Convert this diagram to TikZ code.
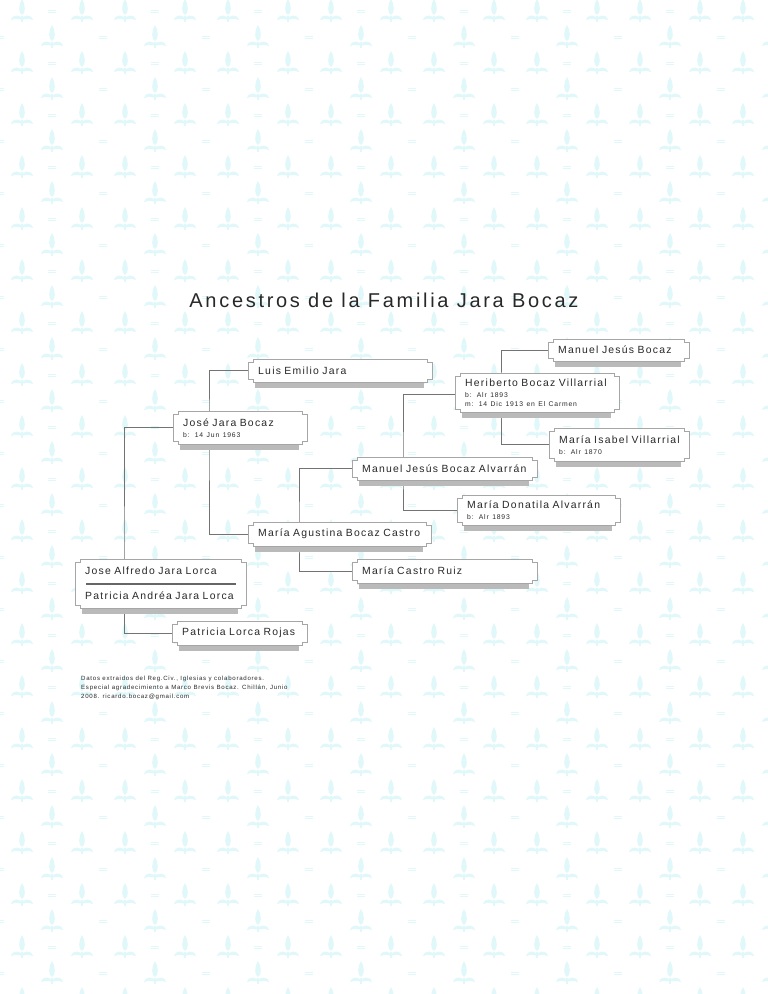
\documentclass[tikz,border=0pt]{standalone}
\usepackage{fontspec}
\setmainfont{Liberation Sans}
\newfontfamily\spacedfont[LetterSpace=12]{Liberation Sans}
\newfontfamily\titlefont[LetterSpace=13.5]{Liberation Sans}
\usetikzlibrary{calc}
\pgfdeclarelayer{pattern}
\pgfdeclarelayer{links}
\pgfdeclarelayer{cards}
\pgfsetlayers{pattern,links,cards,main}
\definecolor{motif}{RGB}{224,248,250}
\definecolor{inkgray}{RGB}{40,40,40}
\newcommand{\datumfont}{\fontsize{6.8}{9}\selectfont}
\newcommand{\datum}[1]{\\[-1pt]{\datumfont #1}}
\tikzset{
  card/.style={anchor=north west, inner xsep=10pt, inner ysep=0pt, text width=#1, align=left,
    minimum height=22pt, text=inkgray, font=\spacedfont\fontsize{10.4}{12}\selectfont},
  link/.style={draw=black!55, line width=0.7pt},
  frame/.style={draw=black!35, fill=white, line width=0.6pt},
  shade/.style={fill=black!27},
  lis/.pic={
    \fill (0,-12) .. controls (4,-5) and (3.5,2) .. (0,4) .. controls (-3.5,2) and (-4,-5) .. (0,-12);
    \fill (-1,6) .. controls (-6,3) and (-10,5) .. (-11,9) .. controls (-8,7) and (-5,8) .. (-1,8.5) -- cycle;
    \fill (1,6) .. controls (6,3) and (10,5) .. (11,9) .. controls (8,7) and (5,8) .. (1,8.5) -- cycle;
    \fill (-1.2,5) rectangle (1.2,11);
  },
  tick/.pic={
    \fill (-4,-1.5) rectangle (4,-0.7);
    \fill (-4,1) rectangle (4,1.8);
  }
}
\begin{document}
\begin{tikzpicture}[x=1pt, y=-1pt]
  \useasboundingbox (0,0) rectangle (768,994);

  % wallpaper
  \begin{pgfonlayer}{pattern}
    \fill[white] (0,0) rectangle (768,994);
    \begin{scope}[fill=motif]
      \foreach \i in {0,...,7} {
        \foreach \j in {0,...,19} {
          \pic at (22+103*\i, 11+52*\j) {lis};
          \pic at (82+103*\i, 11+52*\j) {lis};
          \pic at (52+103*\i, 37+52*\j) {lis};
          \pic at (52+103*\i, 11+52*\j) {tick};
          \pic at (103*\i, 37+52*\j) {tick};
        }
      }
    \end{scope}
  \end{pgfonlayer}

  \node[text=inkgray, font=\titlefont\fontsize{20}{24}\selectfont] (title) at (384,300) {Ancestros de la Familia Jara Bocaz};

  % persons
  \node[card=121pt] (mjb) at (548,339) {Manuel Jesús Bocaz};
  \node[card=164pt, minimum height=23pt] (luis) at (248,359) {Luis Emilio Jara};
  \node[card=144pt, minimum height=39pt] (heri) at (455,373) {Heriberto Bocaz Villarrial\datum{b: Alr 1893}\\[-3.5pt]{\datumfont m: 14 Dic 1913 en El Carmen}};
  \node[card=114pt, minimum height=33pt] (jose) at (173,411) {José Jara Bocaz\datum{b: 14 Jun 1963}};
  \node[card=120pt, minimum height=33pt] (mis) at (549,428) {María Isabel Villarrial\datum{b: Alr 1870}};
  \node[card=165pt, minimum height=23pt] (mjba) at (352,457) {Manuel Jesús Bocaz Alvarrán};
  \node[card=143pt, minimum height=30pt] (mda) at (457,495) {María Donatila Alvarrán\datum{b: Alr 1893}};
  \node[card=163pt, minimum height=24pt] (mabc) at (248,522) {María Agustina Bocaz Castro};
  \node[card=165pt, minimum height=24pt] (mcr) at (352,559) {María Castro Ruiz};
  \node[card=151pt, minimum height=49pt] (pair) at (75,559) {Jose Alfredo Jara Lorca\\[13pt]Patricia Andréa Jara Lorca};
  \node[card=115pt, minimum height=24pt] (plr) at (172,621) {Patricia Lorca Rojas};
  \draw[black!60, line width=1.6pt] ([xshift=11pt]pair.west) -- ([xshift=-10pt]pair.east);

  \node[anchor=north west, align=left, inner sep=0pt, text=inkgray, font=\spacedfont\fontsize{6.1}{9}\selectfont] (note) at (81,676)
    {Datos extraidos del Reg.Civ., Iglesias y colaboradores.\\Especial agradecimiento a Marco Brevis Bocaz. Chillán, Junio\\2008. ricardo.bocaz@gmail.com};

  % cards with notched corners
  \begin{pgfonlayer}{cards}
    \foreach \card in {mjb,luis,heri,jose,mis,mjba,mda,mabc,mcr,pair,plr} {
      \fill[shade] let \p1=(\card.north west), \p2=(\card.south east) in
        (\x1+7pt,\y2) rectangle (\x2-8pt,\y2-6pt);
      \draw[frame] let \p1=(\card.north west), \p2=(\card.south east) in
        (\x1+5pt,\y1) -- (\x2-5pt,\y1) -- (\x2-5pt,\y1-3pt) -- (\x2,\y1-3pt) -- (\x2,\y2+3pt)
        -- (\x2-5pt,\y2+3pt) -- (\x2-5pt,\y2) -- (\x1+5pt,\y2) -- (\x1+5pt,\y2+3pt)
        -- (\x1,\y2+3pt) -- (\x1,\y1-3pt) -- (\x1+5pt,\y1-3pt) -- cycle;
    }
  \end{pgfonlayer}

  % family lines
  \coordinate (pair-bar) at ([xshift=49pt]pair.west);
  \coordinate (jose-bar) at ([xshift=36pt]jose.west);
  \coordinate (mabc-bar) at ([xshift=51pt]mabc.west);
  \coordinate (mjba-bar) at ([xshift=51pt]mjba.west);
  \coordinate (heri-bar) at ([xshift=46pt]heri.west);
  \begin{pgfonlayer}{links}
    \draw[link] (jose.west) -| (pair-bar) |- (plr.west);
    \draw[link] (luis.west) -| (jose-bar) |- (mabc.west);
    \draw[link] (mjba.west) -| (mabc-bar) |- (mcr.west);
    \draw[link] ([yshift=-2pt]heri.west) -| (mjba-bar) |- (mda.west);
    \draw[link] (mjb.west) -| (heri-bar) |- (mis.west);
  \end{pgfonlayer}
\end{tikzpicture}
\end{document}
